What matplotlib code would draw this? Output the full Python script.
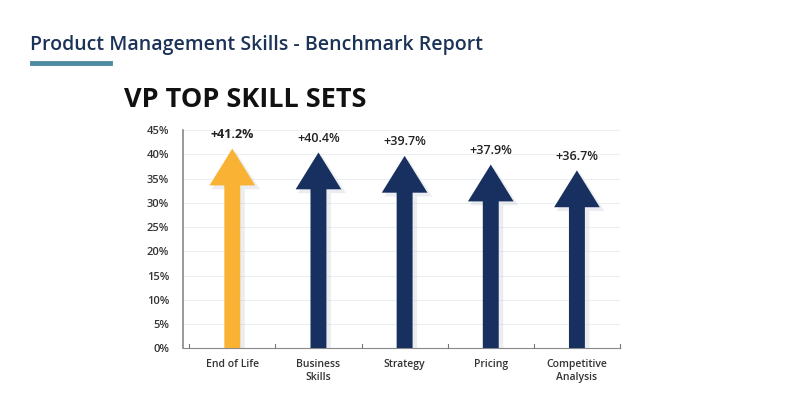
import numpy as np
import matplotlib.pyplot as plt
from matplotlib.lines import Line2D

# data
skills = ['End of Life', 'Business\nSkills', 'Strategy', 'Pricing', 'Competitive\nAnalysis']
values = [41.2, 40.4, 39.7, 37.9, 36.7]
labels = ['+41.2%', '+40.4%', '+39.7%', '+37.9%', '+36.7%']
colors = ['#F9B233', '#17305F', '#17305F', '#17305F', '#17305F']
yticks = [0, 5, 10, 15, 20, 25, 30, 35, 40, 45]

plt.rcParams['font.family'] = ['Open Sans', 'DejaVu Sans']

fig = plt.figure(figsize=(8, 4.2), dpi=100)
ax = fig.add_axes([0.229, 0.171, 0.546, 0.519])

xs = np.arange(len(skills))
for x, v, c, lab in zip(xs, values, colors, labels):
    # soft shadow
    ax.arrow(x + 0.04, 0, 0, v - 0.6, width=0.21, head_width=0.56, head_length=7.8,
             length_includes_head=True, color='#c8ccd4', alpha=0.35, lw=0, zorder=2)
    ax.arrow(x, 0, 0, v, width=0.185, head_width=0.53, head_length=7.6,
             length_includes_head=True, color=c, lw=0, zorder=3)
    ax.text(x, v + 1.6, lab, ha='center', va='bottom', fontsize=9,
            fontweight='bold' if x == 0 else 'semibold', color='#222222')

ax.set_xlim(-0.57, 4.5)
ax.set_ylim(0, 45)
ax.set_yticks(yticks)
ax.set_yticklabels([f'{t}%' for t in yticks], fontsize=8, color='#333333',
                   fontweight='semibold')
ax.set_xticks(xs)
ax.set_xticklabels(skills, fontsize=7.5, color='#333333', fontweight='semibold')
ax.tick_params(axis='x', length=0, pad=8)
ax.tick_params(axis='y', length=0, pad=10)
for t in np.arange(-0.5, 4.6, 1):
    ax.plot([t, t], [0, 0.8], color='#777777', lw=0.8, clip_on=False, zorder=4)

ax.grid(axis='y', color='#e6ecf0', lw=0.6)
ax.set_axisbelow(True)
for s in ['top', 'right']:
    ax.spines[s].set_visible(False)
ax.spines['left'].set_color('#888888')
ax.spines['bottom'].set_color('#888888')
ax.spines['left'].set_linewidth(1.2)

fig.text(0.038, 0.893, 'Product Management Skills - Benchmark Report', fontsize=14,
         fontweight='semibold', color='#1c3358', va='center')
fig.add_artist(Line2D([0.04, 0.138], [0.85, 0.85], color='#4f8aa3', lw=3.5))
fig.text(0.155, 0.762, 'VP TOP SKILL SETS', fontsize=19.5, fontweight='bold',
         color='#111111', va='center')

fig.savefig('out.png', dpi=100, facecolor='white')
